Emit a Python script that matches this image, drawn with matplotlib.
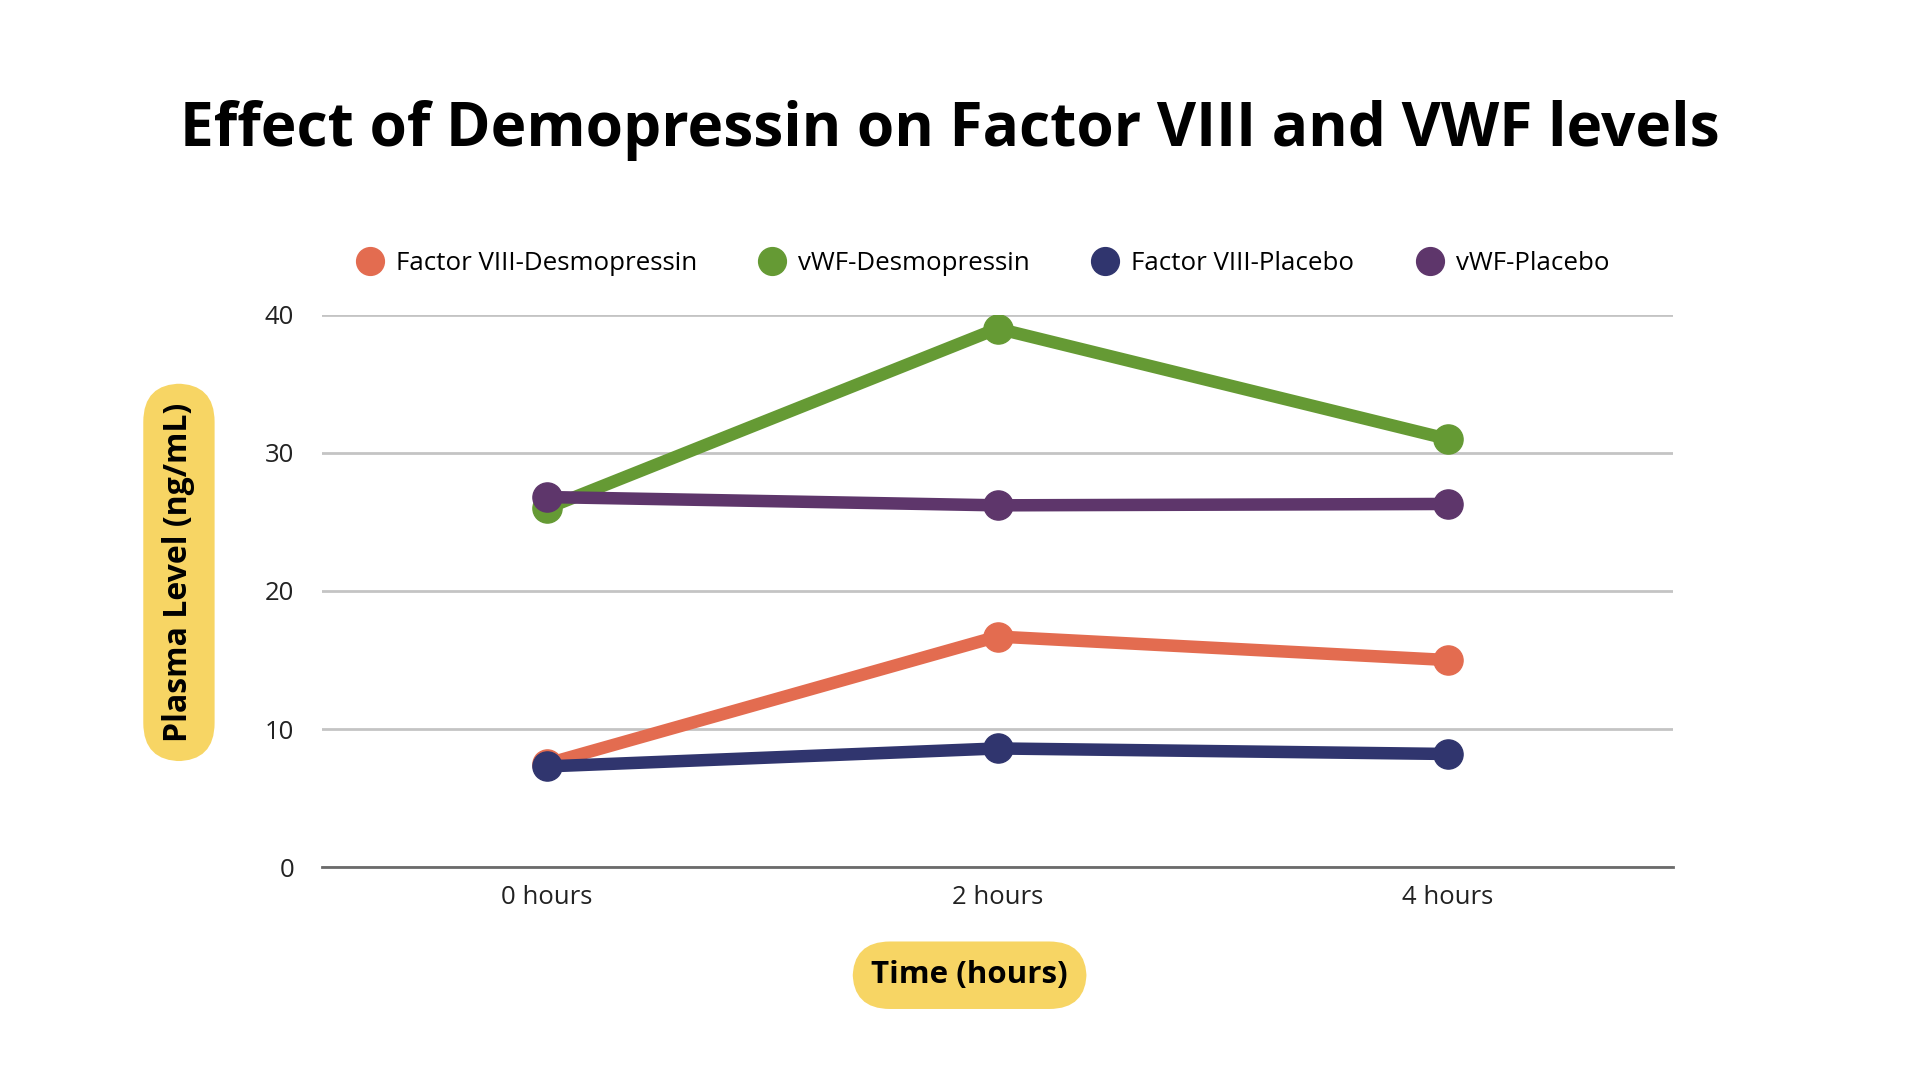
import matplotlib
matplotlib.use("Agg")
import matplotlib.pyplot as plt
from matplotlib.lines import Line2D

plt.rcParams['font.family'] = ['Open Sans', 'DejaVu Sans']

# data
times = ["0 hours", "2 hours", "4 hours"]
series_names = ["Factor VIII-Desmopressin", "vWF-Desmopressin",
                "Factor VIII-Placebo", "vWF-Placebo"]
f8_desmo = [7.5, 16.7, 15.0]
vwf_desmo = [26.0, 39.0, 31.0]
f8_placebo = [7.3, 8.6, 8.2]
vwf_placebo = [26.8, 26.2, 26.3]
colors = ["#E36C50", "#659A34", "#30356E", "#5E366B"]
yticks = [0, 10, 20, 30, 40]

fig = plt.figure(figsize=(19.2, 10.8), dpi=100)
ax = fig.add_axes([0.1677, 0.197, 0.7037, 0.5116])

x = list(range(len(times)))
for vals, c in zip([f8_desmo, vwf_desmo, f8_placebo, vwf_placebo], colors):
    ax.plot(x, vals, color=c, lw=9, marker='o', ms=21, solid_capstyle='round',
            solid_joinstyle='round', zorder=3)

ax.set_xlim(-0.5, 2.5)
ax.set_ylim(0, 40)
ax.set_xticks(x)
ax.set_xticklabels(times)
ax.set_yticks(yticks)
ax.tick_params(axis='both', length=0, labelsize=18.5, colors='#222222')
ax.tick_params(axis='x', pad=13)
ax.tick_params(axis='y', pad=20)
ax.grid(axis='y', color='#C4C4C4', lw=2)
ax.set_axisbelow(True)
for s in ['top', 'right', 'left']:
    ax.spines[s].set_visible(False)
ax.spines['bottom'].set_color('#6B6B6B')
ax.spines['bottom'].set_linewidth(2)
ax.spines['bottom'].set_zorder(2)

fig.text(0.4947, 0.879, "Effect of Demopressin on Factor VIII and VWF levels",
         ha='center', va='center', fontsize=43.5, fontweight='bold')

pill = dict(boxstyle="round,pad=0.6,rounding_size=1.2", fc="#F7D564", ec="none")
fig.text(0.0932, 0.470, "Plasma Level (ng/mL)", rotation=90, ha='center',
         va='center', fontsize=23, fontweight='bold', bbox=pill)
fig.text(0.505, 0.097, "Time (hours)", ha='center', va='center',
         fontsize=22.5, fontweight='bold', bbox=pill)

handles = [Line2D([], [], ls='none', marker='o', ms=20, color=c) for c in colors]
fig.legend(handles, series_names, loc='center', bbox_to_anchor=(0.512, 0.756),
           ncol=4, frameon=False, fontsize=18.6, handlelength=1.0,
           handletextpad=0.5, columnspacing=2.42)

fig.savefig("out.png", dpi=100, facecolor='white')
